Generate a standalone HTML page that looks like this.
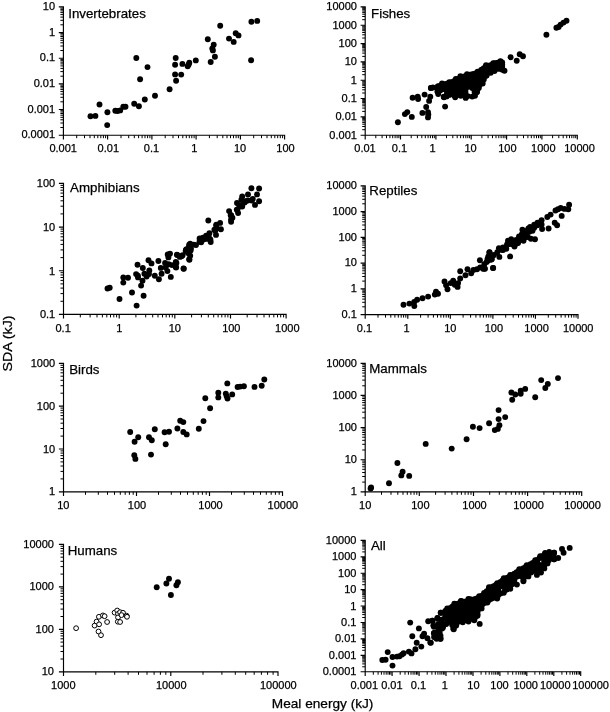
<!DOCTYPE html>
<html><head><meta charset="utf-8"><title>SDA vs meal energy</title>
<style>html,body{margin:0;padding:0;background:#fff}svg{display:block}text{font-family:"Liberation Sans",Arial,Helvetica,sans-serif;fill:#000;stroke:#000;stroke-width:0.25px}</style></head>
<body>
<svg width="610" height="712" viewBox="0 0 610 712">
<rect width="610" height="712" fill="#fff"/>
<g>
<path d="M63.4 6.3V135.2H285.2M63.4 135.2v4.2M107.6 135.2v4.2M151.9 135.2v4.2M196.1 135.2v4.2M240.4 135.2v4.2M284.6 135.2v4.2M63.4 135.2h-4.6M63.4 109.5h-4.6M63.4 83.9h-4.6M63.4 58.2h-4.6M63.4 32.6h-4.6M63.4 6.9h-4.6" fill="none" stroke="#000" stroke-width="1.15"/>
<path d="M76.7 135.2v3.0M84.5 135.2v3.0M90.0 135.2v3.0M94.3 135.2v3.0M97.8 135.2v3.0M100.8 135.2v3.0M103.4 135.2v3.0M105.6 135.2v3.0M121.0 135.2v3.0M128.7 135.2v3.0M134.3 135.2v3.0M138.6 135.2v3.0M142.1 135.2v3.0M145.0 135.2v3.0M147.6 135.2v3.0M149.9 135.2v3.0M165.2 135.2v3.0M173.0 135.2v3.0M178.5 135.2v3.0M182.8 135.2v3.0M186.3 135.2v3.0M189.3 135.2v3.0M191.8 135.2v3.0M194.1 135.2v3.0M209.4 135.2v3.0M217.2 135.2v3.0M222.8 135.2v3.0M227.0 135.2v3.0M230.5 135.2v3.0M233.5 135.2v3.0M236.1 135.2v3.0M238.3 135.2v3.0M253.7 135.2v3.0M261.5 135.2v3.0M267.0 135.2v3.0M271.3 135.2v3.0M274.8 135.2v3.0M277.7 135.2v3.0M280.3 135.2v3.0M282.6 135.2v3.0M63.4 127.5h-3.0M63.4 123.0h-3.0M63.4 119.8h-3.0M63.4 117.3h-3.0M63.4 115.2h-3.0M63.4 113.5h-3.0M63.4 112.0h-3.0M63.4 110.7h-3.0M63.4 101.8h-3.0M63.4 97.3h-3.0M63.4 94.1h-3.0M63.4 91.6h-3.0M63.4 89.6h-3.0M63.4 87.9h-3.0M63.4 86.4h-3.0M63.4 85.1h-3.0M63.4 76.2h-3.0M63.4 71.6h-3.0M63.4 68.4h-3.0M63.4 65.9h-3.0M63.4 63.9h-3.0M63.4 62.2h-3.0M63.4 60.7h-3.0M63.4 59.4h-3.0M63.4 50.5h-3.0M63.4 46.0h-3.0M63.4 42.8h-3.0M63.4 40.3h-3.0M63.4 38.3h-3.0M63.4 36.5h-3.0M63.4 35.0h-3.0M63.4 33.7h-3.0M63.4 24.8h-3.0M63.4 20.3h-3.0M63.4 17.1h-3.0M63.4 14.6h-3.0M63.4 12.6h-3.0M63.4 10.9h-3.0M63.4 9.4h-3.0M63.4 8.1h-3.0" fill="none" stroke="#000" stroke-width="1"/>
<text transform="translate(63.2,152.4) scale(1,1)" font-size="11" text-anchor="middle">0.001</text><text transform="translate(108.3,152.4) scale(1,1)" font-size="11" text-anchor="middle">0.01</text><text transform="translate(151.5,152.4) scale(1,1)" font-size="11" text-anchor="middle">0.1</text><text transform="translate(194.4,152.4) scale(1,1)" font-size="11" text-anchor="middle">1</text><text transform="translate(240.0,152.4) scale(1,1)" font-size="11" text-anchor="middle">10</text><text transform="translate(285.5,152.4) scale(1,1)" font-size="11" text-anchor="middle">100</text>
<text transform="translate(55.1,138.4) scale(1,1)" font-size="11" text-anchor="end">0.0001</text><text transform="translate(55.1,112.7) scale(1,1)" font-size="11" text-anchor="end">0.001</text><text transform="translate(55.1,87.1) scale(1,1)" font-size="11" text-anchor="end">0.01</text><text transform="translate(55.1,61.4) scale(1,1)" font-size="11" text-anchor="end">0.1</text><text transform="translate(55.1,35.8) scale(1,1)" font-size="11" text-anchor="end">1</text><text transform="translate(55.1,10.1) scale(1,1)" font-size="11" text-anchor="end">10</text>
<text x="68.2" y="18.2" font-size="13.3">Invertebrates</text>
<g fill="#000"><circle cx="90.5" cy="116.3" r="2.95"/><circle cx="95.4" cy="115.9" r="2.95"/><circle cx="99.5" cy="104.5" r="2.95"/><circle cx="107.4" cy="112.3" r="2.95"/><circle cx="107.2" cy="125.1" r="2.95"/><circle cx="115.3" cy="110.8" r="2.95"/><circle cx="117.6" cy="111.0" r="2.95"/><circle cx="120.2" cy="110.4" r="2.95"/><circle cx="123.3" cy="106.8" r="2.95"/><circle cx="125.5" cy="106.8" r="2.95"/><circle cx="134.2" cy="103.7" r="2.95"/><circle cx="138.9" cy="106.2" r="2.95"/><circle cx="144.8" cy="99.5" r="2.95"/><circle cx="155.0" cy="95.8" r="2.95"/><circle cx="169.6" cy="89.3" r="2.95"/><circle cx="136.3" cy="58.0" r="2.95"/><circle cx="147.5" cy="67.1" r="2.95"/><circle cx="140.1" cy="79.3" r="2.95"/><circle cx="175.7" cy="58.0" r="2.95"/><circle cx="175.1" cy="64.7" r="2.95"/><circle cx="175.1" cy="74.4" r="2.95"/><circle cx="176.1" cy="80.7" r="2.95"/><circle cx="181.2" cy="74.6" r="2.95"/><circle cx="182.4" cy="63.9" r="2.95"/><circle cx="187.7" cy="66.3" r="2.95"/><circle cx="188.7" cy="64.5" r="2.95"/><circle cx="189.3" cy="62.8" r="2.95"/><circle cx="195.8" cy="60.4" r="2.95"/><circle cx="207.8" cy="39.3" r="2.95"/><circle cx="213.7" cy="44.7" r="2.95"/><circle cx="212.3" cy="48.4" r="2.95"/><circle cx="212.9" cy="50.4" r="2.95"/><circle cx="214.9" cy="56.7" r="2.95"/><circle cx="210.7" cy="62.0" r="2.95"/><circle cx="220.2" cy="25.8" r="2.95"/><circle cx="229.0" cy="38.6" r="2.95"/><circle cx="233.7" cy="41.9" r="2.95"/><circle cx="235.7" cy="33.2" r="2.95"/><circle cx="238.5" cy="35.4" r="2.95"/><circle cx="251.4" cy="21.8" r="2.95"/><circle cx="257.2" cy="20.9" r="2.95"/><circle cx="251.1" cy="60.2" r="2.95"/></g>
</g>
<g>
<path d="M365.2 6.3V135.2H577.9M365.2 135.2v4.2M400.5 135.2v4.2M435.9 135.2v4.2M471.2 135.2v4.2M506.6 135.2v4.2M541.9 135.2v4.2M577.3 135.2v4.2M365.2 135.2h-4.6M365.2 116.9h-4.6M365.2 98.5h-4.6M365.2 80.2h-4.6M365.2 61.9h-4.6M365.2 43.6h-4.6M365.2 25.2h-4.6M365.2 6.9h-4.6" fill="none" stroke="#000" stroke-width="1.15"/>
<path d="M375.8 135.2v3.0M382.1 135.2v3.0M386.5 135.2v3.0M389.9 135.2v3.0M392.7 135.2v3.0M395.1 135.2v3.0M397.1 135.2v3.0M398.9 135.2v3.0M411.2 135.2v3.0M417.4 135.2v3.0M421.8 135.2v3.0M425.3 135.2v3.0M428.1 135.2v3.0M430.4 135.2v3.0M432.5 135.2v3.0M434.3 135.2v3.0M446.5 135.2v3.0M452.8 135.2v3.0M457.2 135.2v3.0M460.6 135.2v3.0M463.4 135.2v3.0M465.8 135.2v3.0M467.8 135.2v3.0M469.6 135.2v3.0M481.9 135.2v3.0M488.1 135.2v3.0M492.5 135.2v3.0M496.0 135.2v3.0M498.8 135.2v3.0M501.1 135.2v3.0M503.2 135.2v3.0M505.0 135.2v3.0M517.2 135.2v3.0M523.5 135.2v3.0M527.9 135.2v3.0M531.3 135.2v3.0M534.1 135.2v3.0M536.5 135.2v3.0M538.5 135.2v3.0M540.3 135.2v3.0M552.6 135.2v3.0M558.8 135.2v3.0M563.2 135.2v3.0M566.7 135.2v3.0M569.5 135.2v3.0M571.8 135.2v3.0M573.9 135.2v3.0M575.7 135.2v3.0M365.2 129.7h-3.0M365.2 126.5h-3.0M365.2 124.2h-3.0M365.2 122.4h-3.0M365.2 120.9h-3.0M365.2 119.7h-3.0M365.2 118.6h-3.0M365.2 117.7h-3.0M365.2 111.4h-3.0M365.2 108.1h-3.0M365.2 105.8h-3.0M365.2 104.1h-3.0M365.2 102.6h-3.0M365.2 101.4h-3.0M365.2 100.3h-3.0M365.2 99.4h-3.0M365.2 93.0h-3.0M365.2 89.8h-3.0M365.2 87.5h-3.0M365.2 85.7h-3.0M365.2 84.3h-3.0M365.2 83.1h-3.0M365.2 82.0h-3.0M365.2 81.1h-3.0M365.2 74.7h-3.0M365.2 71.5h-3.0M365.2 69.2h-3.0M365.2 67.4h-3.0M365.2 66.0h-3.0M365.2 64.7h-3.0M365.2 63.7h-3.0M365.2 62.7h-3.0M365.2 56.4h-3.0M365.2 53.1h-3.0M365.2 50.9h-3.0M365.2 49.1h-3.0M365.2 47.6h-3.0M365.2 46.4h-3.0M365.2 45.3h-3.0M365.2 44.4h-3.0M365.2 38.0h-3.0M365.2 34.8h-3.0M365.2 32.5h-3.0M365.2 30.7h-3.0M365.2 29.3h-3.0M365.2 28.1h-3.0M365.2 27.0h-3.0M365.2 26.1h-3.0M365.2 19.7h-3.0M365.2 16.5h-3.0M365.2 14.2h-3.0M365.2 12.4h-3.0M365.2 11.0h-3.0M365.2 9.7h-3.0M365.2 8.7h-3.0M365.2 7.7h-3.0" fill="none" stroke="#000" stroke-width="1"/>
<text transform="translate(365.0,152.4) scale(1,1)" font-size="11" text-anchor="middle">0.01</text><text transform="translate(399.4,152.4) scale(1,1)" font-size="11" text-anchor="middle">0.1</text><text transform="translate(432.5,152.4) scale(1,1)" font-size="11" text-anchor="middle">1</text><text transform="translate(470.6,152.4) scale(1,1)" font-size="11" text-anchor="middle">10</text><text transform="translate(507.4,152.4) scale(1,1)" font-size="11" text-anchor="middle">100</text><text transform="translate(543.3,152.4) scale(1,1)" font-size="11" text-anchor="middle">1000</text><text transform="translate(579.5,152.4) scale(1,1)" font-size="11" text-anchor="middle">10000</text>
<text transform="translate(356.9,138.7) scale(1,1)" font-size="11" text-anchor="end">0.001</text><text transform="translate(356.9,120.4) scale(1,1)" font-size="11" text-anchor="end">0.01</text><text transform="translate(356.9,102.0) scale(1,1)" font-size="11" text-anchor="end">0.1</text><text transform="translate(356.9,83.7) scale(1,1)" font-size="11" text-anchor="end">1</text><text transform="translate(356.9,65.4) scale(1,1)" font-size="11" text-anchor="end">10</text><text transform="translate(356.9,47.1) scale(1,1)" font-size="11" text-anchor="end">100</text><text transform="translate(356.9,28.7) scale(1,1)" font-size="11" text-anchor="end">1000</text><text transform="translate(356.9,10.4) scale(1,1)" font-size="11" text-anchor="end">10000</text>
<text x="371.1" y="17.6" font-size="13.3">Fishes</text>
<g fill="#000"><circle cx="397.9" cy="122.2" r="2.95"/><circle cx="404.9" cy="114.1" r="2.95"/><circle cx="407.3" cy="112.1" r="2.95"/><circle cx="411.8" cy="116.9" r="2.95"/><circle cx="412.6" cy="97.8" r="2.95"/><circle cx="417.7" cy="96.8" r="2.95"/><circle cx="418.1" cy="99.0" r="2.95"/><circle cx="424.6" cy="94.6" r="2.95"/><circle cx="430.3" cy="96.8" r="2.95"/><circle cx="429.1" cy="100.9" r="2.95"/><circle cx="426.2" cy="107.0" r="2.95"/><circle cx="422.4" cy="112.9" r="2.95"/><circle cx="428.0" cy="112.1" r="2.95"/><circle cx="428.3" cy="114.5" r="2.95"/><circle cx="428.0" cy="117.4" r="2.95"/><circle cx="445.1" cy="106.6" r="2.95"/><circle cx="430.9" cy="87.9" r="2.95"/><circle cx="432.9" cy="87.5" r="2.95"/><circle cx="437.8" cy="86.6" r="2.95"/><circle cx="438.2" cy="94.0" r="2.95"/><circle cx="442.7" cy="84.6" r="2.95"/><circle cx="443.7" cy="96.8" r="2.95"/><circle cx="446.6" cy="96.4" r="2.95"/><circle cx="566.5" cy="20.7" r="2.95"/><circle cx="563.5" cy="22.6" r="2.95"/><circle cx="560.6" cy="24.6" r="2.95"/><circle cx="558.6" cy="27.0" r="2.95"/><circle cx="556.4" cy="27.7" r="2.95"/><circle cx="546.4" cy="34.8" r="2.95"/><circle cx="519.7" cy="54.3" r="2.95"/><circle cx="523.0" cy="56.3" r="2.95"/><circle cx="510.6" cy="57.2" r="2.95"/><circle cx="516.7" cy="60.8" r="2.95"/><circle cx="504.5" cy="70.8" r="2.95"/><circle cx="500.6" cy="61.6" r="2.95"/><circle cx="497.6" cy="62.6" r="2.95"/><circle cx="494.7" cy="63.3" r="2.95"/><circle cx="486.4" cy="65.9" r="2.95"/><circle cx="501.6" cy="66.9" r="2.95"/><circle cx="498.6" cy="68.9" r="2.95"/><circle cx="494.7" cy="67.9" r="2.95"/><circle cx="490.7" cy="68.9" r="2.95"/><circle cx="490.7" cy="72.8" r="2.95"/><circle cx="486.8" cy="70.8" r="2.95"/><circle cx="485.8" cy="75.7" r="2.95"/><circle cx="480.9" cy="70.8" r="2.95"/><circle cx="482.9" cy="78.7" r="2.95"/><circle cx="481.9" cy="83.6" r="2.95"/><circle cx="478.0" cy="87.5" r="2.95"/><circle cx="477.0" cy="91.9" r="2.95"/><circle cx="475.0" cy="95.8" r="2.95"/><circle cx="477.0" cy="76.7" r="2.95"/><circle cx="479.0" cy="80.7" r="2.95"/><circle cx="430.9" cy="88.0" r="2.95"/><circle cx="438.1" cy="86.1" r="2.95"/><circle cx="442.0" cy="83.4" r="2.95"/><circle cx="449.3" cy="82.1" r="2.95"/><circle cx="455.8" cy="78.9" r="2.95"/><circle cx="460.4" cy="76.2" r="2.95"/><circle cx="467.0" cy="74.3" r="2.95"/><circle cx="477.5" cy="71.6" r="2.95"/><circle cx="486.0" cy="65.1" r="2.95"/><circle cx="493.2" cy="63.1" r="2.95"/><circle cx="500.4" cy="61.1" r="2.95"/><circle cx="437.4" cy="91.6" r="2.95"/><circle cx="444.0" cy="97.2" r="2.95"/><circle cx="455.2" cy="97.2" r="2.95"/><circle cx="465.7" cy="97.9" r="2.95"/><circle cx="472.2" cy="96.6" r="2.95"/><circle cx="476.8" cy="92.0" r="2.95"/><circle cx="478.8" cy="88.0" r="2.95"/><circle cx="482.7" cy="83.4" r="2.95"/><circle cx="486.6" cy="75.6" r="2.95"/><circle cx="494.5" cy="71.0" r="2.95"/><circle cx="502.4" cy="69.7" r="2.95"/><circle cx="437.8" cy="87.5" r="2.95"/><circle cx="437.8" cy="89.8" r="2.95"/><circle cx="440.1" cy="86.0" r="2.95"/><circle cx="440.1" cy="88.3" r="2.95"/><circle cx="440.1" cy="90.6" r="2.95"/><circle cx="442.4" cy="84.6" r="2.95"/><circle cx="442.4" cy="86.9" r="2.95"/><circle cx="442.4" cy="89.2" r="2.95"/><circle cx="444.7" cy="84.2" r="2.95"/><circle cx="444.7" cy="86.5" r="2.95"/><circle cx="444.7" cy="88.8" r="2.95"/><circle cx="447.0" cy="83.8" r="2.95"/><circle cx="447.0" cy="86.1" r="2.95"/><circle cx="447.0" cy="88.4" r="2.95"/><circle cx="447.0" cy="90.7" r="2.95"/><circle cx="447.0" cy="93.0" r="2.95"/><circle cx="447.0" cy="95.3" r="2.95"/><circle cx="449.3" cy="83.4" r="2.95"/><circle cx="449.3" cy="85.7" r="2.95"/><circle cx="449.3" cy="88.0" r="2.95"/><circle cx="449.3" cy="90.3" r="2.95"/><circle cx="449.3" cy="92.6" r="2.95"/><circle cx="449.3" cy="94.9" r="2.95"/><circle cx="451.6" cy="82.3" r="2.95"/><circle cx="451.6" cy="84.6" r="2.95"/><circle cx="451.6" cy="86.9" r="2.95"/><circle cx="451.6" cy="89.2" r="2.95"/><circle cx="451.6" cy="91.5" r="2.95"/><circle cx="451.6" cy="93.8" r="2.95"/><circle cx="453.9" cy="81.1" r="2.95"/><circle cx="453.9" cy="83.4" r="2.95"/><circle cx="453.9" cy="85.7" r="2.95"/><circle cx="453.9" cy="88.0" r="2.95"/><circle cx="453.9" cy="90.3" r="2.95"/><circle cx="453.9" cy="92.6" r="2.95"/><circle cx="453.9" cy="94.9" r="2.95"/><circle cx="456.2" cy="80.0" r="2.95"/><circle cx="456.2" cy="82.3" r="2.95"/><circle cx="456.2" cy="84.6" r="2.95"/><circle cx="456.2" cy="86.9" r="2.95"/><circle cx="456.2" cy="89.2" r="2.95"/><circle cx="456.2" cy="91.5" r="2.95"/><circle cx="456.2" cy="93.8" r="2.95"/><circle cx="458.5" cy="78.6" r="2.95"/><circle cx="458.5" cy="80.9" r="2.95"/><circle cx="458.5" cy="83.2" r="2.95"/><circle cx="458.5" cy="85.5" r="2.95"/><circle cx="458.5" cy="87.8" r="2.95"/><circle cx="458.5" cy="90.1" r="2.95"/><circle cx="458.5" cy="92.4" r="2.95"/><circle cx="458.5" cy="94.7" r="2.95"/><circle cx="460.8" cy="77.4" r="2.95"/><circle cx="460.8" cy="79.7" r="2.95"/><circle cx="460.8" cy="82.0" r="2.95"/><circle cx="460.8" cy="84.3" r="2.95"/><circle cx="460.8" cy="86.6" r="2.95"/><circle cx="460.8" cy="88.9" r="2.95"/><circle cx="460.8" cy="91.2" r="2.95"/><circle cx="460.8" cy="93.5" r="2.95"/><circle cx="460.8" cy="95.8" r="2.95"/><circle cx="463.1" cy="76.7" r="2.95"/><circle cx="463.1" cy="79.0" r="2.95"/><circle cx="463.1" cy="81.3" r="2.95"/><circle cx="463.1" cy="83.6" r="2.95"/><circle cx="463.1" cy="85.9" r="2.95"/><circle cx="463.1" cy="88.2" r="2.95"/><circle cx="463.1" cy="90.5" r="2.95"/><circle cx="463.1" cy="92.8" r="2.95"/><circle cx="463.1" cy="95.1" r="2.95"/><circle cx="465.4" cy="76.1" r="2.95"/><circle cx="465.4" cy="78.4" r="2.95"/><circle cx="465.4" cy="80.7" r="2.95"/><circle cx="465.4" cy="83.0" r="2.95"/><circle cx="465.4" cy="85.3" r="2.95"/><circle cx="465.4" cy="87.6" r="2.95"/><circle cx="465.4" cy="89.9" r="2.95"/><circle cx="465.4" cy="92.2" r="2.95"/><circle cx="465.4" cy="94.5" r="2.95"/><circle cx="467.7" cy="75.4" r="2.95"/><circle cx="467.7" cy="77.7" r="2.95"/><circle cx="467.7" cy="80.0" r="2.95"/><circle cx="467.7" cy="82.3" r="2.95"/><circle cx="467.7" cy="84.6" r="2.95"/><circle cx="467.7" cy="86.9" r="2.95"/><circle cx="467.7" cy="96.1" r="2.95"/><circle cx="470.0" cy="74.8" r="2.95"/><circle cx="470.0" cy="77.1" r="2.95"/><circle cx="470.0" cy="79.4" r="2.95"/><circle cx="470.0" cy="81.7" r="2.95"/><circle cx="470.0" cy="84.0" r="2.95"/><circle cx="470.0" cy="86.3" r="2.95"/><circle cx="472.3" cy="74.2" r="2.95"/><circle cx="472.3" cy="76.5" r="2.95"/><circle cx="472.3" cy="78.8" r="2.95"/><circle cx="472.3" cy="81.1" r="2.95"/><circle cx="472.3" cy="83.4" r="2.95"/><circle cx="472.3" cy="85.7" r="2.95"/><circle cx="472.3" cy="88.0" r="2.95"/><circle cx="474.6" cy="73.6" r="2.95"/><circle cx="474.6" cy="75.9" r="2.95"/><circle cx="474.6" cy="78.2" r="2.95"/><circle cx="474.6" cy="80.5" r="2.95"/><circle cx="474.6" cy="82.8" r="2.95"/><circle cx="474.6" cy="85.1" r="2.95"/><circle cx="474.6" cy="87.4" r="2.95"/><circle cx="474.6" cy="89.7" r="2.95"/><circle cx="474.6" cy="92.0" r="2.95"/><circle cx="476.9" cy="73.1" r="2.95"/><circle cx="476.9" cy="75.4" r="2.95"/><circle cx="476.9" cy="77.7" r="2.95"/><circle cx="476.9" cy="80.0" r="2.95"/><circle cx="476.9" cy="82.3" r="2.95"/><circle cx="476.9" cy="84.6" r="2.95"/><circle cx="476.9" cy="86.9" r="2.95"/><circle cx="476.9" cy="89.2" r="2.95"/><circle cx="479.2" cy="71.6" r="2.95"/><circle cx="479.2" cy="73.9" r="2.95"/><circle cx="479.2" cy="76.2" r="2.95"/><circle cx="479.2" cy="78.5" r="2.95"/><circle cx="479.2" cy="80.8" r="2.95"/><circle cx="479.2" cy="83.1" r="2.95"/><circle cx="479.2" cy="85.4" r="2.95"/><circle cx="481.5" cy="69.8" r="2.95"/><circle cx="481.5" cy="72.1" r="2.95"/><circle cx="481.5" cy="74.4" r="2.95"/><circle cx="481.5" cy="76.7" r="2.95"/><circle cx="481.5" cy="79.0" r="2.95"/><circle cx="481.5" cy="81.3" r="2.95"/><circle cx="483.8" cy="68.1" r="2.95"/><circle cx="483.8" cy="70.4" r="2.95"/><circle cx="483.8" cy="72.7" r="2.95"/><circle cx="483.8" cy="75.0" r="2.95"/><circle cx="483.8" cy="77.3" r="2.95"/><circle cx="483.8" cy="79.6" r="2.95"/><circle cx="486.1" cy="66.4" r="2.95"/><circle cx="486.1" cy="68.7" r="2.95"/><circle cx="486.1" cy="71.0" r="2.95"/><circle cx="486.1" cy="73.3" r="2.95"/><circle cx="488.4" cy="65.7" r="2.95"/><circle cx="488.4" cy="68.0" r="2.95"/><circle cx="488.4" cy="70.3" r="2.95"/><circle cx="488.4" cy="72.6" r="2.95"/><circle cx="490.7" cy="65.1" r="2.95"/><circle cx="490.7" cy="67.4" r="2.95"/><circle cx="490.7" cy="69.7" r="2.95"/><circle cx="493.0" cy="64.5" r="2.95"/><circle cx="493.0" cy="66.8" r="2.95"/><circle cx="493.0" cy="69.1" r="2.95"/><circle cx="495.3" cy="63.8" r="2.95"/><circle cx="495.3" cy="66.1" r="2.95"/><circle cx="495.3" cy="68.4" r="2.95"/><circle cx="497.6" cy="63.2" r="2.95"/><circle cx="497.6" cy="65.5" r="2.95"/><circle cx="497.6" cy="67.8" r="2.95"/><circle cx="499.9" cy="62.5" r="2.95"/><circle cx="499.9" cy="64.8" r="2.95"/><circle cx="499.9" cy="67.1" r="2.95"/><circle cx="502.2" cy="62.4" r="2.95"/><circle cx="502.2" cy="64.7" r="2.95"/><circle cx="502.2" cy="67.0" r="2.95"/></g>
</g>
<g>
<path d="M63.5 182.8V314.4H286.7M63.5 314.4v4.2M119.2 314.4v4.2M174.8 314.4v4.2M230.5 314.4v4.2M286.1 314.4v4.2M63.5 314.4h-4.6M63.5 270.7h-4.6M63.5 227.1h-4.6M63.5 183.4h-4.6" fill="none" stroke="#000" stroke-width="1.15"/>
<path d="M80.3 314.4v3.0M90.1 314.4v3.0M97.0 314.4v3.0M102.4 314.4v3.0M106.8 314.4v3.0M110.5 314.4v3.0M113.8 314.4v3.0M116.6 314.4v3.0M135.9 314.4v3.0M145.7 314.4v3.0M152.7 314.4v3.0M158.0 314.4v3.0M162.5 314.4v3.0M166.2 314.4v3.0M169.4 314.4v3.0M172.3 314.4v3.0M191.6 314.4v3.0M201.4 314.4v3.0M208.3 314.4v3.0M213.7 314.4v3.0M218.1 314.4v3.0M221.8 314.4v3.0M225.1 314.4v3.0M227.9 314.4v3.0M247.2 314.4v3.0M257.0 314.4v3.0M264.0 314.4v3.0M269.3 314.4v3.0M273.8 314.4v3.0M277.5 314.4v3.0M280.7 314.4v3.0M283.6 314.4v3.0M63.5 301.3h-3.0M63.5 293.6h-3.0M63.5 288.1h-3.0M63.5 283.9h-3.0M63.5 280.4h-3.0M63.5 277.5h-3.0M63.5 275.0h-3.0M63.5 272.7h-3.0M63.5 257.6h-3.0M63.5 249.9h-3.0M63.5 244.4h-3.0M63.5 240.2h-3.0M63.5 236.8h-3.0M63.5 233.8h-3.0M63.5 231.3h-3.0M63.5 229.1h-3.0M63.5 213.9h-3.0M63.5 206.2h-3.0M63.5 200.8h-3.0M63.5 196.5h-3.0M63.5 193.1h-3.0M63.5 190.2h-3.0M63.5 187.6h-3.0M63.5 185.4h-3.0" fill="none" stroke="#000" stroke-width="1"/>
<text transform="translate(63.1,331.6) scale(1,1)" font-size="11" text-anchor="middle">0.1</text><text transform="translate(119.2,331.6) scale(1,1)" font-size="11" text-anchor="middle">1</text><text transform="translate(174.8,331.6) scale(1,1)" font-size="11" text-anchor="middle">10</text><text transform="translate(231.3,331.6) scale(1,1)" font-size="11" text-anchor="middle">100</text><text transform="translate(287.3,331.6) scale(1,1)" font-size="11" text-anchor="middle">1000</text>
<text transform="translate(55.2,318.4) scale(1,1)" font-size="11" text-anchor="end">0.1</text><text transform="translate(55.2,274.7) scale(1,1)" font-size="11" text-anchor="end">1</text><text transform="translate(55.2,231.1) scale(1,1)" font-size="11" text-anchor="end">10</text><text transform="translate(55.2,187.4) scale(1,1)" font-size="11" text-anchor="end">100</text>
<text x="70.1" y="191.7" font-size="13.3">Amphibians</text>
<g fill="#000"><circle cx="107.5" cy="288.5" r="2.95"/><circle cx="109.7" cy="287.7" r="2.95"/><circle cx="119.5" cy="299.0" r="2.95"/><circle cx="123.3" cy="277.4" r="2.95"/><circle cx="123.3" cy="282.6" r="2.95"/><circle cx="128.0" cy="277.7" r="2.95"/><circle cx="132.0" cy="292.5" r="2.95"/><circle cx="136.6" cy="305.6" r="2.95"/><circle cx="143.6" cy="295.7" r="2.95"/><circle cx="137.5" cy="264.8" r="2.95"/><circle cx="136.1" cy="274.1" r="2.95"/><circle cx="137.9" cy="275.7" r="2.95"/><circle cx="138.0" cy="277.4" r="2.95"/><circle cx="142.8" cy="268.0" r="2.95"/><circle cx="142.5" cy="280.7" r="2.95"/><circle cx="141.1" cy="285.6" r="2.95"/><circle cx="144.4" cy="273.8" r="2.95"/><circle cx="146.6" cy="276.6" r="2.95"/><circle cx="149.0" cy="274.1" r="2.95"/><circle cx="149.3" cy="270.5" r="2.95"/><circle cx="148.5" cy="260.2" r="2.95"/><circle cx="151.5" cy="263.4" r="2.95"/><circle cx="154.8" cy="275.7" r="2.95"/><circle cx="158.9" cy="279.3" r="2.95"/><circle cx="158.4" cy="261.0" r="2.95"/><circle cx="160.8" cy="267.9" r="2.95"/><circle cx="161.6" cy="273.8" r="2.95"/><circle cx="165.1" cy="263.0" r="2.95"/><circle cx="165.7" cy="267.5" r="2.95"/><circle cx="167.4" cy="271.1" r="2.95"/><circle cx="168.7" cy="264.3" r="2.95"/><circle cx="167.7" cy="254.4" r="2.95"/><circle cx="170.0" cy="253.6" r="2.95"/><circle cx="168.4" cy="257.4" r="2.95"/><circle cx="170.8" cy="276.9" r="2.95"/><circle cx="172.0" cy="265.1" r="2.95"/><circle cx="176.4" cy="263.0" r="2.95"/><circle cx="176.1" cy="267.5" r="2.95"/><circle cx="176.9" cy="254.8" r="2.95"/><circle cx="179.8" cy="256.9" r="2.95"/><circle cx="182.6" cy="255.2" r="2.95"/><circle cx="183.8" cy="268.7" r="2.95"/><circle cx="185.9" cy="250.0" r="2.95"/><circle cx="188.4" cy="252.8" r="2.95"/><circle cx="189.2" cy="244.6" r="2.95"/><circle cx="189.2" cy="259.3" r="2.95"/><circle cx="251.4" cy="188.2" r="2.95"/><circle cx="259.1" cy="188.5" r="2.95"/><circle cx="248.0" cy="194.4" r="2.95"/><circle cx="257.0" cy="194.4" r="2.95"/><circle cx="242.2" cy="196.4" r="2.95"/><circle cx="251.7" cy="200.5" r="2.95"/><circle cx="259.1" cy="201.3" r="2.95"/><circle cx="255.0" cy="204.9" r="2.95"/><circle cx="245.5" cy="201.3" r="2.95"/><circle cx="241.4" cy="199.7" r="2.95"/><circle cx="237.0" cy="203.0" r="2.95"/><circle cx="239.8" cy="205.4" r="2.95"/><circle cx="242.2" cy="206.6" r="2.95"/><circle cx="237.3" cy="210.3" r="2.95"/><circle cx="238.1" cy="213.1" r="2.95"/><circle cx="229.1" cy="211.1" r="2.95"/><circle cx="231.1" cy="215.2" r="2.95"/><circle cx="232.4" cy="217.7" r="2.95"/><circle cx="231.1" cy="221.8" r="2.95"/><circle cx="208.3" cy="220.5" r="2.95"/><circle cx="220.1" cy="222.9" r="2.95"/><circle cx="216.3" cy="224.6" r="2.95"/><circle cx="220.9" cy="229.2" r="2.95"/><circle cx="216.8" cy="228.4" r="2.95"/><circle cx="215.2" cy="230.8" r="2.95"/><circle cx="216.0" cy="234.9" r="2.95"/><circle cx="209.4" cy="233.3" r="2.95"/><circle cx="206.1" cy="235.7" r="2.95"/><circle cx="202.9" cy="237.7" r="2.95"/><circle cx="199.6" cy="238.5" r="2.95"/><circle cx="210.7" cy="242.0" r="2.95"/><circle cx="201.2" cy="242.3" r="2.95"/><circle cx="196.0" cy="245.1" r="2.95"/><circle cx="190.2" cy="243.6" r="2.95"/><circle cx="188.9" cy="246.9" r="2.95"/><circle cx="186.5" cy="249.2" r="2.95"/><circle cx="190.6" cy="250.5" r="2.95"/><circle cx="188.1" cy="253.0" r="2.95"/><circle cx="190.2" cy="255.7" r="2.95"/><circle cx="189.4" cy="259.8" r="2.95"/><circle cx="181.6" cy="256.2" r="2.95"/><circle cx="177.5" cy="255.1" r="2.95"/><circle cx="175.8" cy="262.0" r="2.95"/><circle cx="175.8" cy="266.9" r="2.95"/><circle cx="183.5" cy="268.5" r="2.95"/><circle cx="208.7" cy="236.6" r="2.95"/><circle cx="207.0" cy="238.9" r="2.95"/><circle cx="203.5" cy="239.4" r="2.95"/><circle cx="199.5" cy="241.7" r="2.95"/><circle cx="193.8" cy="244.6" r="2.95"/><circle cx="214.4" cy="229.7" r="2.95"/><circle cx="216.2" cy="225.7" r="2.95"/><circle cx="210.4" cy="239.4" r="2.95"/><circle cx="190.9" cy="248.6" r="2.95"/><circle cx="185.7" cy="250.9" r="2.95"/><circle cx="252.8" cy="198.9" r="2.95"/><circle cx="247.9" cy="200.5" r="2.95"/><circle cx="244.6" cy="202.6" r="2.95"/><circle cx="242.1" cy="205.0" r="2.95"/><circle cx="239.3" cy="206.7" r="2.95"/><circle cx="236.8" cy="209.6" r="2.95"/><circle cx="230.7" cy="215.3" r="2.95"/><circle cx="231.1" cy="219.4" r="2.95"/></g>
</g>
<g>
<path d="M365.2 185.2V314.6H578.6M365.2 314.6v4.2M407.8 314.6v4.2M450.3 314.6v4.2M492.9 314.6v4.2M535.4 314.6v4.2M578.0 314.6v4.2M365.2 314.6h-4.6M365.2 288.8h-4.6M365.2 263.1h-4.6M365.2 237.3h-4.6M365.2 211.6h-4.6M365.2 185.8h-4.6" fill="none" stroke="#000" stroke-width="1.15"/>
<path d="M378.0 314.6v3.0M385.5 314.6v3.0M390.8 314.6v3.0M394.9 314.6v3.0M398.3 314.6v3.0M401.2 314.6v3.0M403.6 314.6v3.0M405.8 314.6v3.0M420.6 314.6v3.0M428.1 314.6v3.0M433.4 314.6v3.0M437.5 314.6v3.0M440.9 314.6v3.0M443.7 314.6v3.0M446.2 314.6v3.0M448.4 314.6v3.0M463.1 314.6v3.0M470.6 314.6v3.0M475.9 314.6v3.0M480.1 314.6v3.0M483.4 314.6v3.0M486.3 314.6v3.0M488.8 314.6v3.0M490.9 314.6v3.0M505.7 314.6v3.0M513.2 314.6v3.0M518.5 314.6v3.0M522.6 314.6v3.0M526.0 314.6v3.0M528.8 314.6v3.0M531.3 314.6v3.0M533.5 314.6v3.0M548.3 314.6v3.0M555.7 314.6v3.0M561.1 314.6v3.0M565.2 314.6v3.0M568.6 314.6v3.0M571.4 314.6v3.0M573.9 314.6v3.0M576.1 314.6v3.0M365.2 306.8h-3.0M365.2 302.3h-3.0M365.2 299.1h-3.0M365.2 296.6h-3.0M365.2 294.6h-3.0M365.2 292.8h-3.0M365.2 291.3h-3.0M365.2 290.0h-3.0M365.2 281.1h-3.0M365.2 276.5h-3.0M365.2 273.3h-3.0M365.2 270.8h-3.0M365.2 268.8h-3.0M365.2 267.1h-3.0M365.2 265.6h-3.0M365.2 264.3h-3.0M365.2 255.3h-3.0M365.2 250.8h-3.0M365.2 247.6h-3.0M365.2 245.1h-3.0M365.2 243.0h-3.0M365.2 241.3h-3.0M365.2 239.8h-3.0M365.2 238.5h-3.0M365.2 229.6h-3.0M365.2 225.0h-3.0M365.2 221.8h-3.0M365.2 219.3h-3.0M365.2 217.3h-3.0M365.2 215.6h-3.0M365.2 214.1h-3.0M365.2 212.7h-3.0M365.2 203.8h-3.0M365.2 199.3h-3.0M365.2 196.1h-3.0M365.2 193.6h-3.0M365.2 191.5h-3.0M365.2 189.8h-3.0M365.2 188.3h-3.0M365.2 187.0h-3.0" fill="none" stroke="#000" stroke-width="1"/>
<text transform="translate(364.5,331.8) scale(1,1)" font-size="11" text-anchor="middle">0.1</text><text transform="translate(406.6,331.8) scale(1,1)" font-size="11" text-anchor="middle">1</text><text transform="translate(450.3,331.8) scale(1,1)" font-size="11" text-anchor="middle">10</text><text transform="translate(493.9,331.8) scale(1,1)" font-size="11" text-anchor="middle">100</text><text transform="translate(536.6,331.8) scale(1,1)" font-size="11" text-anchor="middle">1000</text><text transform="translate(578.2,331.8) scale(1,1)" font-size="11" text-anchor="middle">10000</text>
<text transform="translate(356.9,317.8) scale(1,1)" font-size="11" text-anchor="end">0.1</text><text transform="translate(356.9,292.0) scale(1,1)" font-size="11" text-anchor="end">1</text><text transform="translate(356.9,266.3) scale(1,1)" font-size="11" text-anchor="end">10</text><text transform="translate(356.9,240.5) scale(1,1)" font-size="11" text-anchor="end">100</text><text transform="translate(356.9,214.8) scale(1,1)" font-size="11" text-anchor="end">1000</text><text transform="translate(356.9,189.0) scale(1,1)" font-size="11" text-anchor="end">10000</text>
<text x="369.3" y="195.0" font-size="13.3">Reptiles</text>
<g fill="#000"><circle cx="403.5" cy="304.8" r="2.95"/><circle cx="409.4" cy="303.6" r="2.95"/><circle cx="414.3" cy="306.1" r="2.95"/><circle cx="414.2" cy="302.0" r="2.95"/><circle cx="417.1" cy="299.8" r="2.95"/><circle cx="422.5" cy="298.2" r="2.95"/><circle cx="428.1" cy="296.6" r="2.95"/><circle cx="436.0" cy="291.6" r="2.95"/><circle cx="434.8" cy="294.6" r="2.95"/><circle cx="438.0" cy="293.8" r="2.95"/><circle cx="444.5" cy="281.5" r="2.95"/><circle cx="446.1" cy="285.2" r="2.95"/><circle cx="447.5" cy="289.2" r="2.95"/><circle cx="450.7" cy="283.1" r="2.95"/><circle cx="453.2" cy="280.7" r="2.95"/><circle cx="454.8" cy="284.8" r="2.95"/><circle cx="457.6" cy="286.9" r="2.95"/><circle cx="458.1" cy="283.1" r="2.95"/><circle cx="460.2" cy="278.5" r="2.95"/><circle cx="460.2" cy="271.3" r="2.95"/><circle cx="465.5" cy="275.2" r="2.95"/><circle cx="467.5" cy="269.2" r="2.95"/><circle cx="471.2" cy="273.3" r="2.95"/><circle cx="473.4" cy="270.0" r="2.95"/><circle cx="477.0" cy="269.2" r="2.95"/><circle cx="480.2" cy="267.5" r="2.95"/><circle cx="483.5" cy="268.9" r="2.95"/><circle cx="479.9" cy="260.2" r="2.95"/><circle cx="484.3" cy="264.3" r="2.95"/><circle cx="487.6" cy="260.7" r="2.95"/><circle cx="489.3" cy="252.5" r="2.95"/><circle cx="489.8" cy="256.4" r="2.95"/><circle cx="491.7" cy="259.3" r="2.95"/><circle cx="493.0" cy="268.0" r="2.95"/><circle cx="569.1" cy="204.8" r="2.95"/><circle cx="568.3" cy="209.3" r="2.95"/><circle cx="564.5" cy="208.9" r="2.95"/><circle cx="560.7" cy="208.0" r="2.95"/><circle cx="558.0" cy="209.2" r="2.95"/><circle cx="555.5" cy="210.5" r="2.95"/><circle cx="561.7" cy="215.9" r="2.95"/><circle cx="550.6" cy="214.6" r="2.95"/><circle cx="547.3" cy="217.0" r="2.95"/><circle cx="554.7" cy="222.8" r="2.95"/><circle cx="557.1" cy="225.2" r="2.95"/><circle cx="548.6" cy="228.5" r="2.95"/><circle cx="541.6" cy="220.3" r="2.95"/><circle cx="541.6" cy="224.4" r="2.95"/><circle cx="542.1" cy="229.0" r="2.95"/><circle cx="537.5" cy="222.8" r="2.95"/><circle cx="534.2" cy="224.8" r="2.95"/><circle cx="530.1" cy="226.9" r="2.95"/><circle cx="532.5" cy="230.7" r="2.95"/><circle cx="529.3" cy="231.8" r="2.95"/><circle cx="522.4" cy="229.8" r="2.95"/><circle cx="521.9" cy="234.3" r="2.95"/><circle cx="526.0" cy="234.6" r="2.95"/><circle cx="535.0" cy="239.2" r="2.95"/><circle cx="530.9" cy="238.7" r="2.95"/><circle cx="523.5" cy="240.8" r="2.95"/><circle cx="520.2" cy="239.2" r="2.95"/><circle cx="516.1" cy="240.0" r="2.95"/><circle cx="511.2" cy="239.2" r="2.95"/><circle cx="508.0" cy="240.8" r="2.95"/><circle cx="511.2" cy="243.3" r="2.95"/><circle cx="514.5" cy="246.6" r="2.95"/><circle cx="506.3" cy="248.7" r="2.95"/><circle cx="498.9" cy="248.2" r="2.95"/><circle cx="497.3" cy="252.3" r="2.95"/><circle cx="499.4" cy="256.9" r="2.95"/><circle cx="510.1" cy="256.4" r="2.95"/><circle cx="489.6" cy="252.3" r="2.95"/><circle cx="488.3" cy="256.4" r="2.95"/><circle cx="490.7" cy="259.7" r="2.95"/><circle cx="486.6" cy="262.1" r="2.95"/><circle cx="493.2" cy="267.9" r="2.95"/><circle cx="485.0" cy="268.7" r="2.95"/><circle cx="526.0" cy="237.0" r="2.95"/><circle cx="518.0" cy="243.0" r="2.95"/><circle cx="503.0" cy="250.0" r="2.95"/><circle cx="494.0" cy="255.0" r="2.95"/><circle cx="526.0" cy="231.0" r="2.95"/><circle cx="528.4" cy="228.5" r="2.95"/><circle cx="534.2" cy="227.7" r="2.95"/><circle cx="537.5" cy="225.2" r="2.95"/><circle cx="517.8" cy="242.5" r="2.95"/><circle cx="521.9" cy="238.4" r="2.95"/><circle cx="525.2" cy="237.5" r="2.95"/><circle cx="527.6" cy="236.7" r="2.95"/><circle cx="513.7" cy="241.6" r="2.95"/><circle cx="509.6" cy="244.1" r="2.95"/><circle cx="503.0" cy="247.4" r="2.95"/><circle cx="501.4" cy="249.8" r="2.95"/><circle cx="492.4" cy="255.6" r="2.95"/><circle cx="491.6" cy="258.9" r="2.95"/><circle cx="487.5" cy="258.9" r="2.95"/><circle cx="539.1" cy="222.8" r="2.95"/><circle cx="524.0" cy="232.5" r="2.95"/><circle cx="519.0" cy="236.5" r="2.95"/><circle cx="516.5" cy="243.5" r="2.95"/><circle cx="513.0" cy="244.5" r="2.95"/><circle cx="507.0" cy="244.5" r="2.95"/></g>
</g>
<g>
<path d="M63.5 362.7V491.8H283.1M63.5 491.8v4.2M136.5 491.8v4.2M209.5 491.8v4.2M282.5 491.8v4.2M63.5 491.8h-4.6M63.5 449.0h-4.6M63.5 406.1h-4.6M63.5 363.3h-4.6" fill="none" stroke="#000" stroke-width="1.15"/>
<path d="M85.5 491.8v3.0M98.3 491.8v3.0M107.5 491.8v3.0M114.5 491.8v3.0M120.3 491.8v3.0M125.2 491.8v3.0M129.4 491.8v3.0M133.2 491.8v3.0M158.5 491.8v3.0M171.3 491.8v3.0M180.5 491.8v3.0M187.5 491.8v3.0M193.3 491.8v3.0M198.2 491.8v3.0M202.4 491.8v3.0M206.2 491.8v3.0M231.5 491.8v3.0M244.3 491.8v3.0M253.5 491.8v3.0M260.5 491.8v3.0M266.3 491.8v3.0M271.2 491.8v3.0M275.4 491.8v3.0M279.2 491.8v3.0M63.5 478.9h-3.0M63.5 471.4h-3.0M63.5 466.0h-3.0M63.5 461.9h-3.0M63.5 458.5h-3.0M63.5 455.6h-3.0M63.5 453.1h-3.0M63.5 450.9h-3.0M63.5 436.1h-3.0M63.5 428.5h-3.0M63.5 423.2h-3.0M63.5 419.0h-3.0M63.5 415.6h-3.0M63.5 412.8h-3.0M63.5 410.3h-3.0M63.5 408.1h-3.0M63.5 393.2h-3.0M63.5 385.7h-3.0M63.5 380.3h-3.0M63.5 376.2h-3.0M63.5 372.8h-3.0M63.5 369.9h-3.0M63.5 367.5h-3.0M63.5 365.3h-3.0" fill="none" stroke="#000" stroke-width="1"/>
<text transform="translate(63.3,509.0) scale(1,1)" font-size="11" text-anchor="middle">10</text><text transform="translate(137.0,509.0) scale(1,1)" font-size="11" text-anchor="middle">100</text><text transform="translate(210.5,509.0) scale(1,1)" font-size="11" text-anchor="middle">1000</text><text transform="translate(282.9,509.0) scale(1,1)" font-size="11" text-anchor="middle">10000</text>
<text transform="translate(55.2,495.4) scale(1,1)" font-size="11" text-anchor="end">1</text><text transform="translate(55.2,452.6) scale(1,1)" font-size="11" text-anchor="end">10</text><text transform="translate(55.2,409.8) scale(1,1)" font-size="11" text-anchor="end">100</text><text transform="translate(55.2,366.9) scale(1,1)" font-size="11" text-anchor="end">1000</text>
<text x="69.2" y="374.3" font-size="13.3">Birds</text>
<g fill="#000"><circle cx="130.2" cy="432.0" r="2.95"/><circle cx="138.2" cy="437.2" r="2.95"/><circle cx="134.6" cy="441.8" r="2.95"/><circle cx="134.3" cy="455.2" r="2.95"/><circle cx="135.4" cy="458.9" r="2.95"/><circle cx="151.0" cy="454.6" r="2.95"/><circle cx="149.0" cy="437.2" r="2.95"/><circle cx="151.8" cy="440.2" r="2.95"/><circle cx="154.8" cy="429.3" r="2.95"/><circle cx="164.6" cy="432.3" r="2.95"/><circle cx="169.0" cy="431.8" r="2.95"/><circle cx="165.7" cy="444.3" r="2.95"/><circle cx="177.4" cy="428.5" r="2.95"/><circle cx="180.2" cy="420.8" r="2.95"/><circle cx="183.3" cy="422.1" r="2.95"/><circle cx="183.3" cy="432.0" r="2.95"/><circle cx="186.7" cy="434.4" r="2.95"/><circle cx="198.8" cy="428.7" r="2.95"/><circle cx="203.5" cy="421.1" r="2.95"/><circle cx="205.3" cy="398.2" r="2.95"/><circle cx="210.1" cy="408.2" r="2.95"/><circle cx="218.3" cy="392.8" r="2.95"/><circle cx="218.3" cy="397.4" r="2.95"/><circle cx="227.3" cy="383.4" r="2.95"/><circle cx="225.8" cy="393.6" r="2.95"/><circle cx="226.6" cy="396.1" r="2.95"/><circle cx="227.5" cy="398.5" r="2.95"/><circle cx="232.2" cy="394.4" r="2.95"/><circle cx="237.6" cy="387.0" r="2.95"/><circle cx="240.1" cy="386.6" r="2.95"/><circle cx="243.9" cy="386.2" r="2.95"/><circle cx="254.5" cy="386.9" r="2.95"/><circle cx="261.7" cy="385.7" r="2.95"/><circle cx="264.3" cy="379.5" r="2.95"/></g>
</g>
<g>
<path d="M365.2 362.7V491.8H582.3M365.2 491.8v4.2M419.3 491.8v4.2M473.5 491.8v4.2M527.6 491.8v4.2M581.7 491.8v4.2M365.2 491.8h-4.6M365.2 459.7h-4.6M365.2 427.6h-4.6M365.2 395.4h-4.6M365.2 363.3h-4.6" fill="none" stroke="#000" stroke-width="1.15"/>
<path d="M381.5 491.8v3.0M391.0 491.8v3.0M397.8 491.8v3.0M403.0 491.8v3.0M407.3 491.8v3.0M410.9 491.8v3.0M414.1 491.8v3.0M416.8 491.8v3.0M435.6 491.8v3.0M445.1 491.8v3.0M451.9 491.8v3.0M457.2 491.8v3.0M461.4 491.8v3.0M465.1 491.8v3.0M468.2 491.8v3.0M471.0 491.8v3.0M489.7 491.8v3.0M499.3 491.8v3.0M506.0 491.8v3.0M511.3 491.8v3.0M515.6 491.8v3.0M519.2 491.8v3.0M522.3 491.8v3.0M525.1 491.8v3.0M543.9 491.8v3.0M553.4 491.8v3.0M560.2 491.8v3.0M565.4 491.8v3.0M569.7 491.8v3.0M573.3 491.8v3.0M576.5 491.8v3.0M579.2 491.8v3.0M365.2 482.1h-3.0M365.2 476.5h-3.0M365.2 472.5h-3.0M365.2 469.3h-3.0M365.2 466.8h-3.0M365.2 464.7h-3.0M365.2 462.8h-3.0M365.2 461.1h-3.0M365.2 450.0h-3.0M365.2 444.3h-3.0M365.2 440.3h-3.0M365.2 437.2h-3.0M365.2 434.7h-3.0M365.2 432.5h-3.0M365.2 430.7h-3.0M365.2 429.0h-3.0M365.2 417.9h-3.0M365.2 412.2h-3.0M365.2 408.2h-3.0M365.2 405.1h-3.0M365.2 402.6h-3.0M365.2 400.4h-3.0M365.2 398.5h-3.0M365.2 396.9h-3.0M365.2 385.8h-3.0M365.2 380.1h-3.0M365.2 376.1h-3.0M365.2 373.0h-3.0M365.2 370.4h-3.0M365.2 368.3h-3.0M365.2 366.4h-3.0M365.2 364.8h-3.0" fill="none" stroke="#000" stroke-width="1"/>
<text transform="translate(365.2,509.0) scale(1,1)" font-size="11" text-anchor="middle">10</text><text transform="translate(420.4,509.0) scale(1,1)" font-size="11" text-anchor="middle">100</text><text transform="translate(474.5,509.0) scale(1,1)" font-size="11" text-anchor="middle">1000</text><text transform="translate(528.6,509.0) scale(1,1)" font-size="11" text-anchor="middle">10000</text><text transform="translate(582.5,509.0) scale(1,1)" font-size="11" text-anchor="middle">100000</text>
<text transform="translate(356.9,495.0) scale(1,1)" font-size="11" text-anchor="end">1</text><text transform="translate(356.9,462.9) scale(1,1)" font-size="11" text-anchor="end">10</text><text transform="translate(356.9,430.8) scale(1,1)" font-size="11" text-anchor="end">100</text><text transform="translate(356.9,398.6) scale(1,1)" font-size="11" text-anchor="end">1000</text><text transform="translate(356.9,366.5) scale(1,1)" font-size="11" text-anchor="end">10000</text>
<text x="369.2" y="372.5" font-size="13.3">Mammals</text>
<g fill="#000"><circle cx="371.1" cy="487.4" r="2.95"/><circle cx="370.6" cy="488.5" r="2.95"/><circle cx="389.0" cy="483.2" r="2.95"/><circle cx="397.4" cy="463.0" r="2.95"/><circle cx="401.3" cy="475.4" r="2.95"/><circle cx="402.6" cy="471.7" r="2.95"/><circle cx="409.2" cy="475.9" r="2.95"/><circle cx="425.7" cy="443.9" r="2.95"/><circle cx="451.7" cy="448.6" r="2.95"/><circle cx="466.6" cy="439.3" r="2.95"/><circle cx="472.9" cy="426.8" r="2.95"/><circle cx="479.6" cy="428.1" r="2.95"/><circle cx="489.1" cy="423.2" r="2.95"/><circle cx="494.8" cy="430.1" r="2.95"/><circle cx="497.8" cy="428.9" r="2.95"/><circle cx="499.4" cy="425.3" r="2.95"/><circle cx="498.6" cy="419.1" r="2.95"/><circle cx="498.6" cy="410.1" r="2.95"/><circle cx="505.2" cy="417.1" r="2.95"/><circle cx="512.2" cy="399.8" r="2.95"/><circle cx="511.4" cy="392.5" r="2.95"/><circle cx="515.3" cy="394.5" r="2.95"/><circle cx="520.7" cy="393.7" r="2.95"/><circle cx="520.7" cy="390.7" r="2.95"/><circle cx="525.2" cy="388.9" r="2.95"/><circle cx="535.2" cy="397.3" r="2.95"/><circle cx="541.2" cy="380.1" r="2.95"/><circle cx="545.3" cy="388.0" r="2.95"/><circle cx="547.8" cy="383.9" r="2.95"/><circle cx="558.0" cy="378.1" r="2.95"/></g>
</g>
<g>
<path d="M63.5 543.8V671.8H278.6M63.5 671.8v4.2M170.8 671.8v4.2M278.0 671.8v4.2M63.5 671.8h-4.6M63.5 629.3h-4.6M63.5 586.9h-4.6M63.5 544.4h-4.6" fill="none" stroke="#000" stroke-width="1.15"/>
<path d="M95.8 671.8v3.0M114.7 671.8v3.0M128.1 671.8v3.0M138.5 671.8v3.0M147.0 671.8v3.0M154.1 671.8v3.0M160.4 671.8v3.0M165.8 671.8v3.0M203.0 671.8v3.0M221.9 671.8v3.0M235.3 671.8v3.0M245.7 671.8v3.0M254.2 671.8v3.0M261.4 671.8v3.0M267.6 671.8v3.0M273.1 671.8v3.0M63.5 659.0h-3.0M63.5 651.5h-3.0M63.5 646.2h-3.0M63.5 642.1h-3.0M63.5 638.8h-3.0M63.5 635.9h-3.0M63.5 633.4h-3.0M63.5 631.3h-3.0M63.5 616.5h-3.0M63.5 609.1h-3.0M63.5 603.8h-3.0M63.5 599.7h-3.0M63.5 596.3h-3.0M63.5 593.4h-3.0M63.5 591.0h-3.0M63.5 588.8h-3.0M63.5 574.1h-3.0M63.5 566.6h-3.0M63.5 561.3h-3.0M63.5 557.2h-3.0M63.5 553.8h-3.0M63.5 551.0h-3.0M63.5 548.5h-3.0M63.5 546.3h-3.0" fill="none" stroke="#000" stroke-width="1"/>
<text transform="translate(63.3,689.0) scale(1,1)" font-size="11" text-anchor="middle">1000</text><text transform="translate(171.3,689.0) scale(1,1)" font-size="11" text-anchor="middle">10000</text><text transform="translate(278.3,689.0) scale(1,1)" font-size="11" text-anchor="middle">100000</text>
<text transform="translate(53.9,675.0) scale(1,1)" font-size="11" text-anchor="end">10</text><text transform="translate(53.9,632.5) scale(1,1)" font-size="11" text-anchor="end">100</text><text transform="translate(53.9,590.1) scale(1,1)" font-size="11" text-anchor="end">1000</text><text transform="translate(53.9,547.6) scale(1,1)" font-size="11" text-anchor="end">10000</text>
<text x="67.7" y="554.6" font-size="13.3">Humans</text>
<g fill="#000"><circle cx="156.7" cy="587.2" r="2.95"/><circle cx="166.4" cy="583.5" r="2.95"/><circle cx="169.0" cy="578.8" r="2.95"/><circle cx="170.9" cy="595.0" r="2.95"/><circle cx="176.4" cy="585.3" r="2.95"/><circle cx="177.9" cy="582.2" r="2.95"/></g>
<g fill="#fff" stroke="#000" stroke-width="1"><circle cx="76.1" cy="628.2" r="2.4"/><circle cx="94.6" cy="625.6" r="2.4"/><circle cx="96.6" cy="621.6" r="2.4"/><circle cx="98.5" cy="631.5" r="2.4"/><circle cx="101.0" cy="635.2" r="2.4"/><circle cx="99.1" cy="624.3" r="2.4"/><circle cx="98.9" cy="616.8" r="2.4"/><circle cx="102.9" cy="615.4" r="2.4"/><circle cx="104.6" cy="616.2" r="2.4"/><circle cx="107.1" cy="622.0" r="2.4"/><circle cx="114.6" cy="612.6" r="2.4"/><circle cx="117.2" cy="610.5" r="2.4"/><circle cx="118.0" cy="613.9" r="2.4"/><circle cx="120.1" cy="612.2" r="2.4"/><circle cx="118.0" cy="617.4" r="2.4"/><circle cx="117.8" cy="621.7" r="2.4"/><circle cx="120.1" cy="622.0" r="2.4"/><circle cx="123.0" cy="612.8" r="2.4"/><circle cx="121.5" cy="615.1" r="2.4"/><circle cx="126.6" cy="615.7" r="2.4"/><circle cx="127.0" cy="616.8" r="2.4"/></g>
</g>
<g>
<path d="M365.2 539.8V671.7H581.3M365.2 671.7v4.2M392.1 671.7v4.2M419.1 671.7v4.2M446.0 671.7v4.2M473.0 671.7v4.2M499.9 671.7v4.2M526.8 671.7v4.2M553.8 671.7v4.2M580.7 671.7v4.2M365.2 671.7h-4.6M365.2 655.3h-4.6M365.2 638.9h-4.6M365.2 622.5h-4.6M365.2 606.0h-4.6M365.2 589.6h-4.6M365.2 573.2h-4.6M365.2 556.8h-4.6M365.2 540.4h-4.6" fill="none" stroke="#000" stroke-width="1.15"/>
<path d="M373.3 671.7v3.0M378.1 671.7v3.0M381.4 671.7v3.0M384.0 671.7v3.0M386.2 671.7v3.0M388.0 671.7v3.0M389.5 671.7v3.0M390.9 671.7v3.0M400.2 671.7v3.0M405.0 671.7v3.0M408.4 671.7v3.0M411.0 671.7v3.0M413.1 671.7v3.0M414.9 671.7v3.0M416.5 671.7v3.0M417.8 671.7v3.0M427.2 671.7v3.0M431.9 671.7v3.0M435.3 671.7v3.0M437.9 671.7v3.0M440.0 671.7v3.0M441.8 671.7v3.0M443.4 671.7v3.0M444.8 671.7v3.0M454.1 671.7v3.0M458.9 671.7v3.0M462.2 671.7v3.0M464.8 671.7v3.0M467.0 671.7v3.0M468.8 671.7v3.0M470.3 671.7v3.0M471.7 671.7v3.0M481.1 671.7v3.0M485.8 671.7v3.0M489.2 671.7v3.0M491.8 671.7v3.0M493.9 671.7v3.0M495.7 671.7v3.0M497.3 671.7v3.0M498.7 671.7v3.0M508.0 671.7v3.0M512.7 671.7v3.0M516.1 671.7v3.0M518.7 671.7v3.0M520.8 671.7v3.0M522.7 671.7v3.0M524.2 671.7v3.0M525.6 671.7v3.0M534.9 671.7v3.0M539.7 671.7v3.0M543.0 671.7v3.0M545.7 671.7v3.0M547.8 671.7v3.0M549.6 671.7v3.0M551.2 671.7v3.0M552.5 671.7v3.0M561.9 671.7v3.0M566.6 671.7v3.0M570.0 671.7v3.0M572.6 671.7v3.0M574.7 671.7v3.0M576.5 671.7v3.0M578.1 671.7v3.0M579.5 671.7v3.0M365.2 666.8h-3.0M365.2 663.9h-3.0M365.2 661.8h-3.0M365.2 660.2h-3.0M365.2 658.9h-3.0M365.2 657.8h-3.0M365.2 656.9h-3.0M365.2 656.0h-3.0M365.2 650.3h-3.0M365.2 647.5h-3.0M365.2 645.4h-3.0M365.2 643.8h-3.0M365.2 642.5h-3.0M365.2 641.4h-3.0M365.2 640.5h-3.0M365.2 639.6h-3.0M365.2 633.9h-3.0M365.2 631.0h-3.0M365.2 629.0h-3.0M365.2 627.4h-3.0M365.2 626.1h-3.0M365.2 625.0h-3.0M365.2 624.1h-3.0M365.2 623.2h-3.0M365.2 617.5h-3.0M365.2 614.6h-3.0M365.2 612.6h-3.0M365.2 611.0h-3.0M365.2 609.7h-3.0M365.2 608.6h-3.0M365.2 607.6h-3.0M365.2 606.8h-3.0M365.2 601.1h-3.0M365.2 598.2h-3.0M365.2 596.2h-3.0M365.2 594.6h-3.0M365.2 593.3h-3.0M365.2 592.2h-3.0M365.2 591.2h-3.0M365.2 590.4h-3.0M365.2 584.7h-3.0M365.2 581.8h-3.0M365.2 579.8h-3.0M365.2 578.2h-3.0M365.2 576.9h-3.0M365.2 575.8h-3.0M365.2 574.8h-3.0M365.2 574.0h-3.0M365.2 568.3h-3.0M365.2 565.4h-3.0M365.2 563.3h-3.0M365.2 561.8h-3.0M365.2 560.5h-3.0M365.2 559.4h-3.0M365.2 558.4h-3.0M365.2 557.6h-3.0M365.2 551.9h-3.0M365.2 549.0h-3.0M365.2 546.9h-3.0M365.2 545.3h-3.0M365.2 544.0h-3.0M365.2 542.9h-3.0M365.2 542.0h-3.0M365.2 541.2h-3.0" fill="none" stroke="#000" stroke-width="1"/>
<text transform="translate(364.3,688.9) scale(1,1)" font-size="11" text-anchor="middle">0.001</text><text transform="translate(391.9,688.9) scale(1,1)" font-size="11" text-anchor="middle">0.01</text><text transform="translate(418.5,688.9) scale(1,1)" font-size="11" text-anchor="middle">0.1</text><text transform="translate(444.9,688.9) scale(1,1)" font-size="11" text-anchor="middle">1</text><text transform="translate(473.4,688.9) scale(1,1)" font-size="11" text-anchor="middle">10</text><text transform="translate(499.5,688.9) scale(1,1)" font-size="11" text-anchor="middle">100</text><text transform="translate(525.7,688.9) scale(1,1)" font-size="11" text-anchor="middle">1000</text><text transform="translate(555.3,688.9) scale(1,1)" font-size="11" text-anchor="middle">10000</text><text transform="translate(590.6,688.9) scale(1,1)" font-size="11" text-anchor="middle">100000</text>
<text transform="translate(356.4,675.2) scale(1,1)" font-size="11" text-anchor="end">0.0001</text><text transform="translate(356.4,658.8) scale(1,1)" font-size="11" text-anchor="end">0.001</text><text transform="translate(356.4,642.4) scale(1,1)" font-size="11" text-anchor="end">0.01</text><text transform="translate(356.4,626.0) scale(1,1)" font-size="11" text-anchor="end">0.1</text><text transform="translate(356.4,609.5) scale(1,1)" font-size="11" text-anchor="end">1</text><text transform="translate(356.4,593.1) scale(1,1)" font-size="11" text-anchor="end">10</text><text transform="translate(356.4,576.7) scale(1,1)" font-size="11" text-anchor="end">100</text><text transform="translate(356.4,560.3) scale(1,1)" font-size="11" text-anchor="end">1000</text><text transform="translate(356.4,543.9) scale(1,1)" font-size="11" text-anchor="end">10000</text>
<text x="371.0" y="550.0" font-size="13.3">All</text>
<g fill="#000"><circle cx="382.3" cy="660.0" r="2.95"/><circle cx="385.6" cy="659.7" r="2.95"/><circle cx="387.7" cy="652.1" r="2.95"/><circle cx="392.5" cy="657.0" r="2.95"/><circle cx="392.5" cy="665.6" r="2.95"/><circle cx="397.0" cy="656.6" r="2.95"/><circle cx="399.5" cy="656.2" r="2.95"/><circle cx="402.0" cy="654.6" r="2.95"/><circle cx="403.6" cy="653.3" r="2.95"/><circle cx="408.9" cy="651.6" r="2.95"/><circle cx="411.5" cy="653.4" r="2.95"/><circle cx="415.4" cy="649.2" r="2.95"/><circle cx="416.7" cy="642.8" r="2.95"/><circle cx="421.3" cy="646.6" r="2.95"/><circle cx="412.3" cy="636.2" r="2.95"/><circle cx="410.2" cy="622.6" r="2.95"/><circle cx="418.9" cy="628.4" r="2.95"/><circle cx="424.1" cy="633.8" r="2.95"/><circle cx="422.5" cy="636.2" r="2.95"/><circle cx="427.4" cy="638.2" r="2.95"/><circle cx="430.3" cy="642.6" r="2.95"/><circle cx="428.2" cy="621.3" r="2.95"/><circle cx="432.3" cy="620.7" r="2.95"/><circle cx="433.9" cy="626.7" r="2.95"/><circle cx="433.9" cy="633.3" r="2.95"/><circle cx="434.8" cy="637.0" r="2.95"/><circle cx="437.5" cy="618.0" r="2.95"/><circle cx="438.0" cy="623.9" r="2.95"/><circle cx="439.7" cy="632.1" r="2.95"/><circle cx="440.5" cy="635.7" r="2.95"/><circle cx="440.2" cy="638.7" r="2.95"/><circle cx="442.1" cy="628.4" r="2.95"/><circle cx="441.6" cy="621.8" r="2.95"/><circle cx="446.2" cy="623.9" r="2.95"/><circle cx="453.3" cy="628.7" r="2.95"/><circle cx="440.8" cy="612.8" r="2.95"/><circle cx="445.4" cy="613.6" r="2.95"/><circle cx="448.4" cy="609.5" r="2.95"/><circle cx="454.4" cy="603.8" r="2.95"/><circle cx="461.0" cy="601.3" r="2.95"/><circle cx="468.4" cy="598.9" r="2.95"/><circle cx="432.5" cy="620.7" r="2.95"/><circle cx="437.4" cy="618.2" r="2.95"/><circle cx="441.5" cy="619.8" r="2.95"/><circle cx="445.6" cy="623.9" r="2.95"/><circle cx="439.8" cy="625.6" r="2.95"/><circle cx="433.3" cy="625.6" r="2.95"/><circle cx="434.1" cy="633.0" r="2.95"/><circle cx="439.0" cy="632.1" r="2.95"/><circle cx="439.8" cy="636.2" r="2.95"/><circle cx="440.7" cy="638.7" r="2.95"/><circle cx="434.1" cy="637.0" r="2.95"/><circle cx="430.8" cy="642.8" r="2.95"/><circle cx="479.7" cy="623.9" r="2.95"/><circle cx="569.7" cy="547.9" r="2.95"/><circle cx="562.0" cy="549.0" r="2.95"/><circle cx="563.6" cy="552.8" r="2.95"/><circle cx="558.2" cy="558.0" r="2.95"/><circle cx="554.1" cy="552.8" r="2.95"/><circle cx="554.1" cy="559.3" r="2.95"/><circle cx="441.8" cy="625.6" r="2.95"/><circle cx="438.3" cy="627.9" r="2.95"/><circle cx="436.0" cy="632.5" r="2.95"/><circle cx="439.5" cy="634.8" r="2.95"/><circle cx="436.6" cy="638.8" r="2.95"/><circle cx="443.0" cy="627.5" r="2.95"/><circle cx="440.7" cy="612.8" r="2.95"/><circle cx="447.2" cy="608.4" r="2.95"/><circle cx="454.6" cy="603.9" r="2.95"/><circle cx="461.1" cy="601.0" r="2.95"/><circle cx="470.2" cy="599.3" r="2.95"/><circle cx="479.2" cy="596.2" r="2.95"/><circle cx="484.1" cy="593.0" r="2.95"/><circle cx="489.0" cy="587.2" r="2.95"/><circle cx="497.2" cy="583.1" r="2.95"/><circle cx="503.8" cy="578.2" r="2.95"/><circle cx="510.3" cy="574.9" r="2.95"/><circle cx="519.3" cy="569.2" r="2.95"/><circle cx="526.7" cy="565.1" r="2.95"/><circle cx="535.2" cy="560.3" r="2.95"/><circle cx="540.2" cy="556.2" r="2.95"/><circle cx="545.1" cy="553.0" r="2.95"/><circle cx="549.2" cy="552.0" r="2.95"/><circle cx="554.1" cy="552.8" r="2.95"/><circle cx="445.0" cy="618.0" r="2.95"/><circle cx="453.8" cy="629.2" r="2.95"/><circle cx="456.2" cy="625.6" r="2.95"/><circle cx="462.8" cy="622.3" r="2.95"/><circle cx="468.5" cy="621.5" r="2.95"/><circle cx="474.3" cy="620.3" r="2.95"/><circle cx="477.5" cy="615.7" r="2.95"/><circle cx="481.6" cy="608.4" r="2.95"/><circle cx="487.4" cy="602.6" r="2.95"/><circle cx="497.2" cy="598.5" r="2.95"/><circle cx="503.8" cy="592.8" r="2.95"/><circle cx="510.3" cy="588.7" r="2.95"/><circle cx="516.9" cy="584.6" r="2.95"/><circle cx="523.4" cy="581.3" r="2.95"/><circle cx="528.4" cy="576.4" r="2.95"/><circle cx="531.1" cy="572.5" r="2.95"/><circle cx="536.9" cy="574.9" r="2.95"/><circle cx="541.0" cy="572.5" r="2.95"/><circle cx="544.3" cy="568.4" r="2.95"/><circle cx="547.5" cy="563.4" r="2.95"/><circle cx="554.1" cy="559.3" r="2.95"/><circle cx="445.3" cy="611.0" r="2.95"/><circle cx="445.3" cy="613.3" r="2.95"/><circle cx="445.3" cy="615.6" r="2.95"/><circle cx="447.6" cy="609.5" r="2.95"/><circle cx="447.6" cy="611.8" r="2.95"/><circle cx="447.6" cy="614.1" r="2.95"/><circle cx="447.6" cy="616.4" r="2.95"/><circle cx="447.6" cy="618.7" r="2.95"/><circle cx="449.9" cy="608.1" r="2.95"/><circle cx="449.9" cy="610.4" r="2.95"/><circle cx="449.9" cy="612.7" r="2.95"/><circle cx="449.9" cy="615.0" r="2.95"/><circle cx="449.9" cy="617.3" r="2.95"/><circle cx="449.9" cy="619.6" r="2.95"/><circle cx="449.9" cy="621.9" r="2.95"/><circle cx="452.2" cy="606.7" r="2.95"/><circle cx="452.2" cy="609.0" r="2.95"/><circle cx="452.2" cy="611.3" r="2.95"/><circle cx="452.2" cy="613.6" r="2.95"/><circle cx="452.2" cy="615.9" r="2.95"/><circle cx="452.2" cy="618.2" r="2.95"/><circle cx="452.2" cy="620.5" r="2.95"/><circle cx="452.2" cy="622.8" r="2.95"/><circle cx="452.2" cy="625.1" r="2.95"/><circle cx="454.5" cy="605.3" r="2.95"/><circle cx="454.5" cy="607.6" r="2.95"/><circle cx="454.5" cy="609.9" r="2.95"/><circle cx="454.5" cy="612.2" r="2.95"/><circle cx="454.5" cy="614.5" r="2.95"/><circle cx="454.5" cy="616.8" r="2.95"/><circle cx="454.5" cy="619.1" r="2.95"/><circle cx="454.5" cy="621.4" r="2.95"/><circle cx="454.5" cy="623.7" r="2.95"/><circle cx="454.5" cy="626.0" r="2.95"/><circle cx="456.8" cy="604.2" r="2.95"/><circle cx="456.8" cy="606.5" r="2.95"/><circle cx="456.8" cy="608.8" r="2.95"/><circle cx="456.8" cy="611.1" r="2.95"/><circle cx="456.8" cy="613.4" r="2.95"/><circle cx="456.8" cy="615.7" r="2.95"/><circle cx="456.8" cy="618.0" r="2.95"/><circle cx="456.8" cy="620.3" r="2.95"/><circle cx="456.8" cy="622.6" r="2.95"/><circle cx="459.1" cy="603.2" r="2.95"/><circle cx="459.1" cy="605.5" r="2.95"/><circle cx="459.1" cy="607.8" r="2.95"/><circle cx="459.1" cy="610.1" r="2.95"/><circle cx="459.1" cy="612.4" r="2.95"/><circle cx="459.1" cy="614.7" r="2.95"/><circle cx="459.1" cy="617.0" r="2.95"/><circle cx="459.1" cy="619.3" r="2.95"/><circle cx="459.1" cy="621.6" r="2.95"/><circle cx="461.4" cy="602.2" r="2.95"/><circle cx="461.4" cy="604.5" r="2.95"/><circle cx="461.4" cy="606.8" r="2.95"/><circle cx="461.4" cy="609.1" r="2.95"/><circle cx="461.4" cy="611.4" r="2.95"/><circle cx="461.4" cy="613.7" r="2.95"/><circle cx="461.4" cy="616.0" r="2.95"/><circle cx="461.4" cy="618.3" r="2.95"/><circle cx="461.4" cy="620.6" r="2.95"/><circle cx="463.7" cy="601.8" r="2.95"/><circle cx="463.7" cy="604.1" r="2.95"/><circle cx="463.7" cy="606.4" r="2.95"/><circle cx="463.7" cy="608.7" r="2.95"/><circle cx="463.7" cy="611.0" r="2.95"/><circle cx="463.7" cy="613.3" r="2.95"/><circle cx="463.7" cy="615.6" r="2.95"/><circle cx="463.7" cy="617.9" r="2.95"/><circle cx="463.7" cy="620.2" r="2.95"/><circle cx="466.0" cy="601.4" r="2.95"/><circle cx="466.0" cy="603.7" r="2.95"/><circle cx="466.0" cy="606.0" r="2.95"/><circle cx="466.0" cy="608.3" r="2.95"/><circle cx="466.0" cy="610.6" r="2.95"/><circle cx="466.0" cy="612.9" r="2.95"/><circle cx="466.0" cy="615.2" r="2.95"/><circle cx="466.0" cy="617.5" r="2.95"/><circle cx="466.0" cy="619.8" r="2.95"/><circle cx="468.3" cy="601.0" r="2.95"/><circle cx="468.3" cy="603.3" r="2.95"/><circle cx="468.3" cy="605.6" r="2.95"/><circle cx="468.3" cy="607.9" r="2.95"/><circle cx="468.3" cy="610.2" r="2.95"/><circle cx="468.3" cy="612.5" r="2.95"/><circle cx="468.3" cy="614.8" r="2.95"/><circle cx="468.3" cy="617.1" r="2.95"/><circle cx="468.3" cy="619.4" r="2.95"/><circle cx="470.6" cy="600.5" r="2.95"/><circle cx="470.6" cy="602.8" r="2.95"/><circle cx="470.6" cy="605.1" r="2.95"/><circle cx="470.6" cy="607.4" r="2.95"/><circle cx="470.6" cy="609.7" r="2.95"/><circle cx="470.6" cy="612.0" r="2.95"/><circle cx="470.6" cy="614.3" r="2.95"/><circle cx="470.6" cy="616.6" r="2.95"/><circle cx="470.6" cy="618.9" r="2.95"/><circle cx="472.9" cy="599.7" r="2.95"/><circle cx="472.9" cy="602.0" r="2.95"/><circle cx="472.9" cy="604.3" r="2.95"/><circle cx="472.9" cy="606.6" r="2.95"/><circle cx="472.9" cy="608.9" r="2.95"/><circle cx="472.9" cy="611.2" r="2.95"/><circle cx="472.9" cy="613.5" r="2.95"/><circle cx="472.9" cy="615.8" r="2.95"/><circle cx="472.9" cy="618.1" r="2.95"/><circle cx="475.2" cy="598.9" r="2.95"/><circle cx="475.2" cy="601.2" r="2.95"/><circle cx="475.2" cy="603.5" r="2.95"/><circle cx="475.2" cy="605.8" r="2.95"/><circle cx="475.2" cy="608.1" r="2.95"/><circle cx="475.2" cy="610.4" r="2.95"/><circle cx="475.2" cy="612.7" r="2.95"/><circle cx="475.2" cy="615.0" r="2.95"/><circle cx="475.2" cy="617.3" r="2.95"/><circle cx="477.5" cy="598.1" r="2.95"/><circle cx="477.5" cy="600.4" r="2.95"/><circle cx="477.5" cy="602.7" r="2.95"/><circle cx="477.5" cy="605.0" r="2.95"/><circle cx="477.5" cy="607.3" r="2.95"/><circle cx="477.5" cy="609.6" r="2.95"/><circle cx="477.5" cy="611.9" r="2.95"/><circle cx="477.5" cy="614.2" r="2.95"/><circle cx="479.8" cy="597.1" r="2.95"/><circle cx="479.8" cy="599.4" r="2.95"/><circle cx="479.8" cy="601.7" r="2.95"/><circle cx="479.8" cy="604.0" r="2.95"/><circle cx="479.8" cy="606.3" r="2.95"/><circle cx="479.8" cy="608.6" r="2.95"/><circle cx="482.1" cy="595.6" r="2.95"/><circle cx="482.1" cy="597.9" r="2.95"/><circle cx="482.1" cy="600.2" r="2.95"/><circle cx="482.1" cy="602.5" r="2.95"/><circle cx="482.1" cy="604.8" r="2.95"/><circle cx="484.4" cy="593.9" r="2.95"/><circle cx="484.4" cy="596.2" r="2.95"/><circle cx="484.4" cy="598.5" r="2.95"/><circle cx="484.4" cy="600.8" r="2.95"/><circle cx="484.4" cy="603.1" r="2.95"/><circle cx="486.7" cy="591.2" r="2.95"/><circle cx="486.7" cy="593.5" r="2.95"/><circle cx="486.7" cy="595.8" r="2.95"/><circle cx="486.7" cy="598.1" r="2.95"/><circle cx="486.7" cy="600.4" r="2.95"/><circle cx="489.0" cy="588.5" r="2.95"/><circle cx="489.0" cy="590.8" r="2.95"/><circle cx="489.0" cy="593.1" r="2.95"/><circle cx="489.0" cy="595.4" r="2.95"/><circle cx="489.0" cy="597.7" r="2.95"/><circle cx="489.0" cy="600.0" r="2.95"/><circle cx="491.3" cy="587.3" r="2.95"/><circle cx="491.3" cy="589.6" r="2.95"/><circle cx="491.3" cy="591.9" r="2.95"/><circle cx="491.3" cy="594.2" r="2.95"/><circle cx="491.3" cy="596.5" r="2.95"/><circle cx="491.3" cy="598.8" r="2.95"/><circle cx="493.6" cy="586.2" r="2.95"/><circle cx="493.6" cy="588.5" r="2.95"/><circle cx="493.6" cy="590.8" r="2.95"/><circle cx="493.6" cy="593.1" r="2.95"/><circle cx="493.6" cy="595.4" r="2.95"/><circle cx="493.6" cy="597.7" r="2.95"/><circle cx="495.9" cy="585.0" r="2.95"/><circle cx="495.9" cy="587.3" r="2.95"/><circle cx="495.9" cy="589.6" r="2.95"/><circle cx="495.9" cy="591.9" r="2.95"/><circle cx="495.9" cy="594.2" r="2.95"/><circle cx="495.9" cy="596.5" r="2.95"/><circle cx="498.2" cy="583.7" r="2.95"/><circle cx="498.2" cy="586.0" r="2.95"/><circle cx="498.2" cy="588.3" r="2.95"/><circle cx="498.2" cy="590.6" r="2.95"/><circle cx="498.2" cy="592.9" r="2.95"/><circle cx="498.2" cy="595.2" r="2.95"/><circle cx="500.5" cy="581.9" r="2.95"/><circle cx="500.5" cy="584.2" r="2.95"/><circle cx="500.5" cy="586.5" r="2.95"/><circle cx="500.5" cy="593.4" r="2.95"/><circle cx="502.8" cy="580.2" r="2.95"/><circle cx="502.8" cy="582.5" r="2.95"/><circle cx="502.8" cy="584.8" r="2.95"/><circle cx="505.1" cy="578.8" r="2.95"/><circle cx="505.1" cy="581.1" r="2.95"/><circle cx="505.1" cy="583.4" r="2.95"/><circle cx="505.1" cy="585.7" r="2.95"/><circle cx="505.1" cy="588.0" r="2.95"/><circle cx="505.1" cy="590.3" r="2.95"/><circle cx="507.4" cy="577.7" r="2.95"/><circle cx="507.4" cy="580.0" r="2.95"/><circle cx="507.4" cy="582.3" r="2.95"/><circle cx="507.4" cy="584.6" r="2.95"/><circle cx="507.4" cy="586.9" r="2.95"/><circle cx="507.4" cy="589.2" r="2.95"/><circle cx="509.7" cy="576.5" r="2.95"/><circle cx="509.7" cy="578.8" r="2.95"/><circle cx="509.7" cy="581.1" r="2.95"/><circle cx="509.7" cy="583.4" r="2.95"/><circle cx="509.7" cy="585.7" r="2.95"/><circle cx="512.0" cy="575.1" r="2.95"/><circle cx="512.0" cy="577.4" r="2.95"/><circle cx="512.0" cy="579.7" r="2.95"/><circle cx="512.0" cy="582.0" r="2.95"/><circle cx="512.0" cy="584.3" r="2.95"/><circle cx="514.3" cy="573.7" r="2.95"/><circle cx="514.3" cy="576.0" r="2.95"/><circle cx="514.3" cy="578.3" r="2.95"/><circle cx="514.3" cy="580.6" r="2.95"/><circle cx="514.3" cy="582.9" r="2.95"/><circle cx="516.6" cy="572.2" r="2.95"/><circle cx="516.6" cy="574.5" r="2.95"/><circle cx="516.6" cy="576.8" r="2.95"/><circle cx="518.9" cy="570.8" r="2.95"/><circle cx="518.9" cy="573.1" r="2.95"/><circle cx="518.9" cy="575.4" r="2.95"/><circle cx="521.2" cy="569.4" r="2.95"/><circle cx="521.2" cy="571.7" r="2.95"/><circle cx="521.2" cy="574.0" r="2.95"/><circle cx="521.2" cy="576.3" r="2.95"/><circle cx="523.5" cy="568.2" r="2.95"/><circle cx="523.5" cy="570.5" r="2.95"/><circle cx="523.5" cy="572.8" r="2.95"/><circle cx="523.5" cy="575.1" r="2.95"/><circle cx="523.5" cy="577.4" r="2.95"/><circle cx="523.5" cy="579.7" r="2.95"/><circle cx="525.8" cy="566.9" r="2.95"/><circle cx="525.8" cy="569.2" r="2.95"/><circle cx="525.8" cy="571.5" r="2.95"/><circle cx="525.8" cy="573.8" r="2.95"/><circle cx="525.8" cy="576.1" r="2.95"/><circle cx="528.1" cy="565.6" r="2.95"/><circle cx="528.1" cy="567.9" r="2.95"/><circle cx="528.1" cy="570.2" r="2.95"/><circle cx="528.1" cy="572.5" r="2.95"/><circle cx="528.1" cy="574.8" r="2.95"/><circle cx="530.4" cy="564.3" r="2.95"/><circle cx="530.4" cy="566.6" r="2.95"/><circle cx="530.4" cy="568.9" r="2.95"/><circle cx="530.4" cy="571.2" r="2.95"/><circle cx="532.7" cy="563.0" r="2.95"/><circle cx="532.7" cy="565.3" r="2.95"/><circle cx="532.7" cy="567.6" r="2.95"/><circle cx="532.7" cy="569.9" r="2.95"/><circle cx="535.0" cy="561.7" r="2.95"/><circle cx="535.0" cy="564.0" r="2.95"/><circle cx="535.0" cy="566.3" r="2.95"/><circle cx="535.0" cy="568.6" r="2.95"/><circle cx="535.0" cy="570.9" r="2.95"/><circle cx="537.3" cy="559.9" r="2.95"/><circle cx="537.3" cy="562.2" r="2.95"/><circle cx="537.3" cy="564.5" r="2.95"/><circle cx="537.3" cy="566.8" r="2.95"/><circle cx="537.3" cy="569.1" r="2.95"/><circle cx="537.3" cy="571.4" r="2.95"/><circle cx="539.6" cy="558.0" r="2.95"/><circle cx="539.6" cy="564.9" r="2.95"/><circle cx="539.6" cy="567.2" r="2.95"/><circle cx="539.6" cy="569.5" r="2.95"/><circle cx="539.6" cy="571.8" r="2.95"/><circle cx="541.9" cy="556.4" r="2.95"/><circle cx="541.9" cy="565.6" r="2.95"/><circle cx="541.9" cy="567.9" r="2.95"/><circle cx="544.2" cy="554.9" r="2.95"/><circle cx="544.2" cy="557.2" r="2.95"/><circle cx="544.2" cy="559.5" r="2.95"/><circle cx="544.2" cy="561.8" r="2.95"/><circle cx="544.2" cy="564.1" r="2.95"/><circle cx="544.2" cy="566.4" r="2.95"/><circle cx="546.5" cy="554.0" r="2.95"/><circle cx="546.5" cy="556.3" r="2.95"/><circle cx="546.5" cy="558.6" r="2.95"/><circle cx="546.5" cy="560.9" r="2.95"/><circle cx="546.5" cy="563.2" r="2.95"/><circle cx="548.8" cy="553.4" r="2.95"/><circle cx="548.8" cy="555.7" r="2.95"/><circle cx="548.8" cy="558.0" r="2.95"/><circle cx="548.8" cy="560.3" r="2.95"/><circle cx="551.1" cy="553.6" r="2.95"/><circle cx="551.1" cy="555.9" r="2.95"/><circle cx="551.1" cy="558.2" r="2.95"/><circle cx="553.4" cy="554.0" r="2.95"/><circle cx="553.4" cy="556.3" r="2.95"/></g>
</g>
<text transform="translate(11.65,343.5) rotate(-90) scale(1.055,1)" font-size="13.5" text-anchor="middle">SDA (kJ)</text>
<text x="322.6" y="708.3" font-size="13.65" text-anchor="middle">Meal energy (kJ)</text>
</svg>
</body></html>
